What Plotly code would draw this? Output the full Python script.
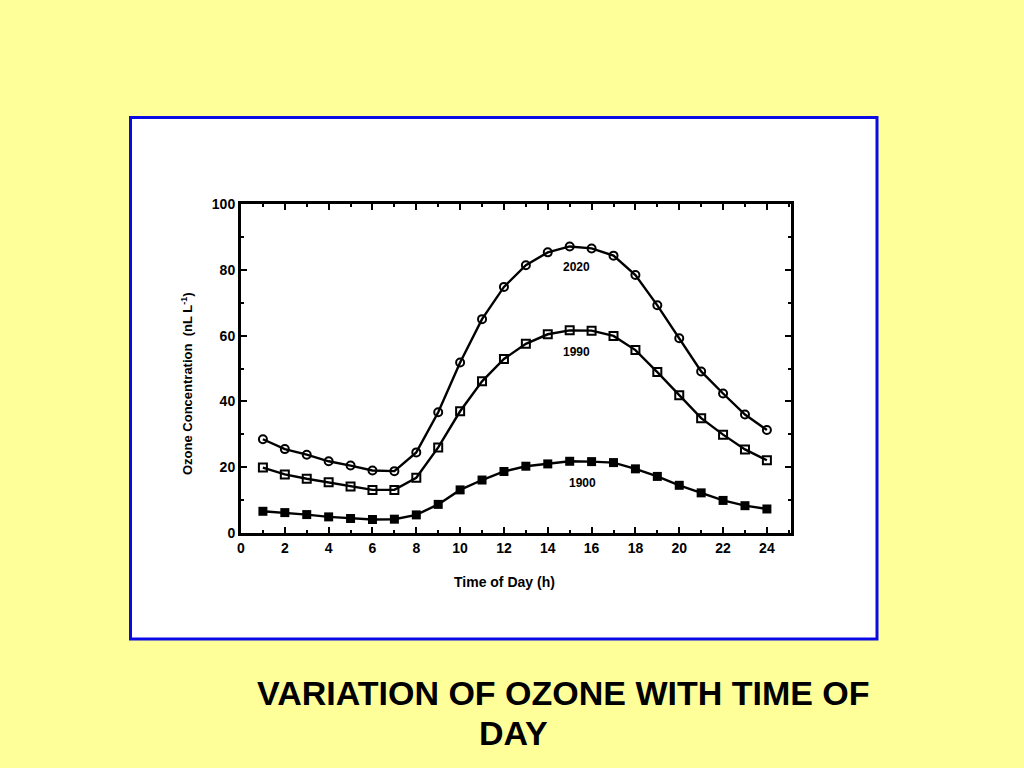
import plotly.graph_objects as go

hours = list(range(1, 25))
ozone_2020 = [28.5, 25.5, 23.8, 21.8, 20.5, 19.0, 18.8, 24.5, 36.7, 51.8, 65.0, 74.8,
              81.4, 85.3, 87.1, 86.5, 84.3, 78.4, 69.2, 59.2, 49.1, 42.4, 36.0, 31.3]
ozone_1990 = [19.9, 17.8, 16.5, 15.4, 14.1, 13.1, 13.1, 16.8, 26.0, 37.0, 46.1, 52.9,
              57.5, 60.4, 61.6, 61.5, 59.9, 55.6, 48.9, 41.9, 34.9, 29.9, 25.4, 22.1]
ozone_1900 = [6.6, 6.2, 5.6, 4.9, 4.4, 4.1, 4.2, 5.5, 8.7, 13.1, 16.1, 18.7,
              20.3, 21.0, 21.8, 21.7, 21.4, 19.5, 17.2, 14.5, 12.2, 9.9, 8.3, 7.3]
series_labels = ["2020", "1990", "1900"]
label_x = [15.3, 15.3, 15.6]
label_y = [80.9, 54.9, 15.2]
x_ticks = list(range(0, 25, 2))
y_ticks = list(range(0, 101, 20))

PL, PR, PT, PB = 241, 791, 204, 533
W, H = PR - PL, PB - PT


def px(x):
    return (x - PL) / W


def py(y):
    return (PB - y) / H


fig = go.Figure()
line = dict(color="black", width=2.4)
fig.add_trace(go.Scatter(x=hours, y=ozone_2020, mode="lines+markers", line=line,
                         marker=dict(symbol="circle-open", size=8, color="black", line=dict(width=2))))
fig.add_trace(go.Scatter(x=hours, y=ozone_1990, mode="lines+markers", line=line,
                         marker=dict(symbol="square-open", size=8, color="black", line=dict(width=2))))
fig.add_trace(go.Scatter(x=hours, y=ozone_1900, mode="lines+markers", line=line,
                         marker=dict(symbol="square", size=9, color="black")))

bold = dict(family="Liberation Sans", color="black", weight="bold")
for txt, lx, ly in zip(series_labels, label_x, label_y):
    fig.add_annotation(x=lx, y=ly, text=txt, showarrow=False, xref="x", yref="y",
                       font=dict(size=12, **bold))

# white panel with blue border
fig.add_shape(type="rect", xref="paper", yref="paper", layer="below",
              x0=px(130.5), x1=px(877), y0=py(639), y1=py(117.5),
              fillcolor="white", line=dict(color="#0a0ae6", width=3))

fig.add_annotation(xref="paper", yref="paper", x=px(563), y=py(693), xanchor="center", yanchor="middle",
                   text="VARIATION OF OZONE WITH TIME OF", showarrow=False, font=dict(size=34, **bold))
fig.add_annotation(xref="paper", yref="paper", x=px(513), y=py(733), xanchor="center", yanchor="middle",
                   text="DAY", showarrow=False, font=dict(size=34, **bold))

# axis titles
fig.add_annotation(xref="paper", yref="paper", x=px(504), y=py(582), xanchor="center", yanchor="middle",
                   text="Time of Day (h)", showarrow=False, font=dict(size=14, **bold))
fig.add_annotation(xref="paper", yref="paper", x=px(187), y=py(384), xanchor="center", yanchor="middle",
                   textangle=-90, text="Ozone Concentration  (nL L<sup>-1</sup>)", showarrow=False,
                   font=dict(size=13, **bold))

tickfont = dict(size=14, **bold)
fig.update_layout(
    width=1024, height=768,
    margin=dict(l=PL, r=1024 - PR, t=PT, b=768 - PB, autoexpand=False),
    paper_bgcolor="#ffff99", plot_bgcolor="white",
    showlegend=False,
    xaxis=dict(range=[0, 25.1], tickvals=x_ticks, ticks="inside", ticklen=6, tickwidth=2,
               tickcolor="black", showline=True, linewidth=3, linecolor="black", mirror="ticks",
               showgrid=False, zeroline=False, tickfont=tickfont,
               minor=dict(dtick=1, tick0=0, ticks="inside", ticklen=3, tickwidth=2, tickcolor="black", showgrid=False)),
    yaxis=dict(range=[0, 100], tickvals=y_ticks, ticks="inside", ticklen=6, tickwidth=2,
               tickcolor="black", showline=True, linewidth=3, linecolor="black", mirror="ticks",
               showgrid=False, zeroline=False, tickfont=tickfont,
               minor=dict(dtick=10, tick0=0, ticks="inside", ticklen=3, tickwidth=2, tickcolor="black", showgrid=False)),
)

fig.write_html("out.html")
